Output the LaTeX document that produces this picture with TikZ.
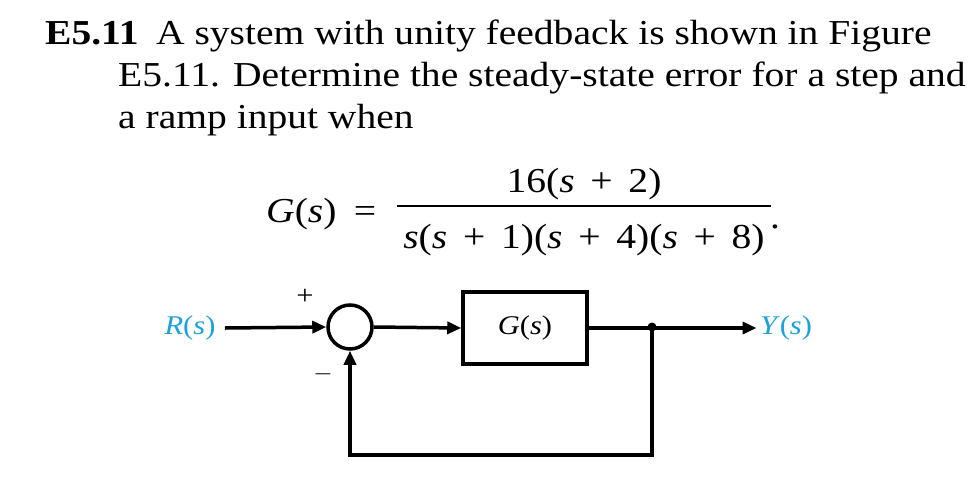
\documentclass[tikz,border=0pt]{standalone}
\usepackage{fontspec}
\setmainfont[FakeStretch=1.13]{Liberation Serif}
\usetikzlibrary{arrows.meta}
\definecolor{lbl}{RGB}{30,160,220}
\newcommand{\vs}{\textit{s}}
\newcommand{\pl}{\hspace{0.45em}+\hspace{0.45em}}
\begin{document}
\begin{tikzpicture}[x=1pt,y=-1pt,
  wire/.style={line width=3.5pt},
  arr/.style={wire,-{Triangle[length=14pt,width=12pt]}},
  txt/.style={font=\fontsize{35}{40}\selectfont,inner sep=0,anchor=base west},
  lab/.style={font=\fontsize{27}{30}\selectfont}]
\useasboundingbox (0,0) rectangle (975,480);
\fill[white] (0,0) rectangle (975,480);
\node[txt] (t1) at (45,44) {\textbf{E5.11}\hspace{0.5em}A system with unity feedback is shown in Figure};
\node[txt] (t2) at (118,86) {E5.11. Determine the steady-state error for a step and};
\node[txt] (t3) at (118,128) {a ramp input when};
\node[txt] (lhs) at (266,222) {\textit{G}(\vs)\hspace{0.5em}=};
\node[txt,anchor=base] (num) at (584,192) {16(\vs\pl2)};
\node[txt,anchor=base] (den) at (584,248) {\vs(\vs\pl1)(\vs\pl4)(\vs\pl8)};
\draw[line width=1.2pt] (397,206) -- (771,206);
\node[txt] (dot) at (770,228) {.};
\node[circle,draw,wire,minimum size=44pt,inner sep=0] (sum) at (350,327) {};
\node[draw,wire,minimum width=124pt,minimum height=72pt,lab] (g) at (525,328) {\textit{G}(\vs)};
\node[text=lbl,lab] (r) at (190,328) {\textit{R}(\vs)};
\node[text=lbl,lab] (y) at (786,328) {\textit{Y}(\vs)};
\node[lab] (p) at (305,297) {+};
\node[lab] (m) at (323,374) {$-$};
\coordinate (j) at (652,327);
\coordinate (b) at (652,455);
\draw[arr] (r.east)++(6,0) -- (sum.west);
\draw[arr] (sum.east) -- (g.west);
\draw[arr] (g.east) -- (y.west);
\fill (j) circle (4.5pt);
\draw[arr] (j) -- (b) -| (sum.south);
\end{tikzpicture}
\end{document}
